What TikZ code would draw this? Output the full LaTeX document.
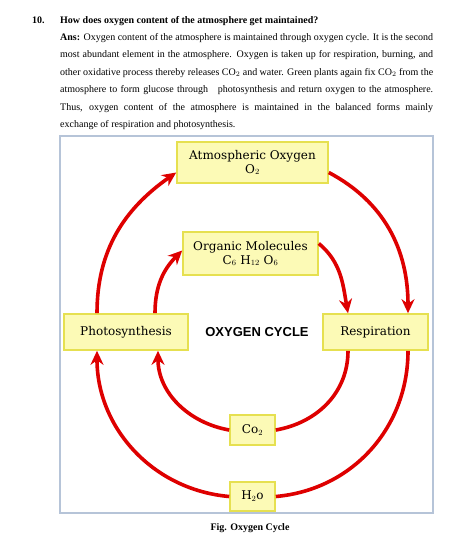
\documentclass[tikz,border=0pt]{standalone}
\usepackage{fontspec}
\setmainfont{Liberation Serif}
\newfontfamily\boxfont{DejaVu Serif}
\newfontfamily\headfont{Liberation Sans}
\usepackage{tikz}
\usetikzlibrary{arrows.meta}
\definecolor{boxfill}{RGB}{252,250,182}
\definecolor{boxline}{RGB}{230,224,80}
\definecolor{cycred}{RGB}{222,0,0}
\definecolor{framecol}{RGB}{182,196,216}

\begin{document}
\begin{tikzpicture}[x=1pt,y=1pt,
  cycbox/.style={draw=boxline,fill=boxfill,line width=1.6pt,inner sep=0pt,align=center,font=\boxfont\fontsize{12}{14}\selectfont},
  cycarrow/.style={draw=cycred,line width=3.6pt,-{Stealth[length=14pt,width=13pt]}},
  cycline/.style={draw=cycred,line width=3.6pt}]
\useasboundingbox (0,0) rectangle (474,-541);
\fill[white] (0,0) rectangle (474,-541);
\node[anchor=base west,inner sep=0pt,font=\fontsize{10}{12}\selectfont\bfseries] (num) at (32,-23.5) {10.};
\node[anchor=base west,inner sep=0pt,font=\fontsize{10}{12}\selectfont\bfseries] (quest) at (60,-23.5) {How does oxygen content of the atmosphere get maintained?};
\node[anchor=base west,inner sep=0pt,text width=373pt,align=justify,font=\fontsize{10}{17.4}\selectfont] (ans) at (60,-40.5) {\textbf{Ans:} Oxygen content of the atmosphere is maintained through oxygen cycle. It is the second\linebreak most abundant element in the atmosphere. Oxygen is taken up for respiration, burning, and\linebreak other oxidative process thereby releases CO$_2$ and water. Green plants again fix CO$_2$ from the\linebreak atmosphere to form glucose through \ \ photosynthesis and return oxygen to the atmosphere.\linebreak Thus, oxygen content of the atmosphere is maintained in the balanced forms mainly\linebreak exchange of respiration and photosynthesis.};
\draw[framecol,line width=1.2pt] (60,-136) rectangle (433,-513);
\node[cycbox,minimum width=151pt,minimum height=41pt] (atm) at (252.5,-162.5) {Atmospheric Oxygen\\O$_2$};
\node[cycbox,minimum width=135pt,minimum height=43pt] (org) at (250.5,-253.5) {Organic Molecules\\C$_6$ H$_{12}$ O$_6$};
\node[cycbox,minimum width=124pt,minimum height=36pt] (photo) at (126,-332) {Photosynthesis};
\node[cycbox,minimum width=105pt,minimum height=36pt] (resp) at (375.5,-332) {Respiration};
\node[font=\headfont\bfseries\fontsize{13}{15}\selectfont] (title) at (257,-332) {OXYGEN CYCLE};
\node[cycbox,minimum width=45pt,minimum height=30pt] (co2) at (252.5,-430) {Co$_2$};
\node[cycbox,minimum width=45pt,minimum height=29pt] (h2o) at (252.5,-496.5) {H$_2$o};
\draw[cycarrow] ([xshift=-29pt]photo.north) to[out=90,in=215] ([yshift=-10pt]atm.west);
\draw[cycarrow] ([yshift=-10pt]atm.east) to[out=-28,in=90] ([xshift=32.5pt]resp.north);
\draw[cycarrow] ([xshift=29pt]photo.north) to[out=90,in=225] ([yshift=3pt]org.west);
\draw[cycarrow] ([yshift=10pt]org.east) to[out=-40,in=100] ([xshift=-27.5pt]resp.north);
\draw[cycline] ([xshift=-27.5pt]resp.south) to[out=-90,in=10] (co2.east);
\draw[cycarrow] (co2.west) to[out=170,in=-90] ([xshift=32pt]photo.south);
\draw[cycline] ([xshift=32.5pt]resp.south) to[out=-90,in=5] (h2o.east);
\draw[cycarrow] (h2o.west) to[out=175,in=-90] ([xshift=-29pt]photo.south);
\node[anchor=base,inner sep=0pt,font=\fontsize{10}{12}\selectfont\bfseries] (caption) at (250,-530) {Fig. Oxygen Cycle};
\end{tikzpicture}
\end{document}
